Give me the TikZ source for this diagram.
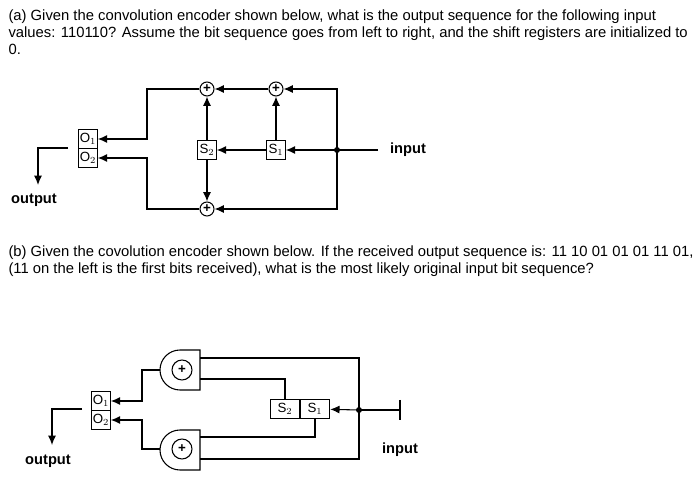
\documentclass[tikz,border=0pt]{standalone}
\usepackage{fontspec}
\setmainfont{Liberation Sans}
\usetikzlibrary{arrows.meta, calc, positioning}
\tikzstyle{reg} = [rectangle, draw=black, fill=white, inner sep=0pt, minimum width=14pt, minimum height=14pt, font=\fontsize{10}{12}\selectfont]
\tikzstyle{adder} = [circle, draw=black, fill=white, inner sep=0pt, minimum size=10.5pt, font=\bfseries\fontsize{10}{12}\selectfont]
\tikzstyle{arrow} = [-{Latex[length=7pt, width=6pt]}]
\tikzstyle{wire} = []
\tikzstyle{lbl} = [font=\bfseries\fontsize{11}{13}\selectfont]
\tikzstyle{txt} = [anchor=base west, inner sep=0pt, font=\fontsize{11.1}{13}\selectfont]
\begin{document}
\begin{tikzpicture}[x=0.75pt, y=-0.75pt, line width=0.8pt]
	\useasboundingbox (0,0) rectangle (700,484);

	% question (a)
	\node[txt] (qa1) at (8,21) {(a) Given the convolution encoder shown below, what is the output sequence for the following input};
	\node[txt] (qa2) at (8,38) {values: 110110? Assume the bit sequence goes from left to right, and the shift registers are initialized to};
	\node[txt] (qa3) at (8,55) {0.};

	\node (addA) [adder] at (207,89) {+};
	\node (addB) [adder] at (276,89) {+};
	\node (addC) [adder] at (207,209) {+};
	\node (s2) [reg] at (207,150) {S$_2$};
	\node (s1) [reg] at (276,150) {S$_1$};
	\node (o1) [reg] at (88,139) {O$_1$};
	\node (o2) [reg] at (88,158) {O$_2$};
	\coordinate (jA) at (337,150);
	\coordinate (inA) at (378,150);
	\node[lbl] (inputA) at (408,150) {input};
	\node[lbl] (outputA) at (34,200) {output};
	\fill (jA) circle (3);

	\draw[wire] (inA) -- (jA);
	\draw[arrow] (jA) -- (s1);
	\draw[arrow] (s1) -- (s2);
	\draw[arrow] (s2) -- (addA);
	\draw[arrow] (s2) -- (addC);
	\draw[arrow] (s1) -- (addB);
	\draw[arrow] (jA) |- (addB);
	\draw[arrow] (addB) -- (addA);
	\draw[arrow] (jA) |- (addC);
	\draw[arrow] (addA) -| (147,139) -- (o1);
	\draw[arrow] (addC) -| (147,158) -- (o2);
	\draw[arrow] (68,148) -| (38,185);

	% question (b)
	\node[txt] (qb1) at (8,257) {(b) Given the covolution encoder shown below. If the received output sequence is: 11 10 01 01 01 11 01,};
	\node[txt] (qb2) at (8,274) {(11 on the left is the first bits received), what is the most likely original input bit sequence?};

	\draw[wire, fill=white] (200,350) -- (180,350) arc[start angle=-90, end angle=-270, radius=20] -- (200,390) -- cycle;
	\draw[wire, fill=white] (200,430) -- (180,430) arc[start angle=-90, end angle=-270, radius=20] -- (200,470) -- cycle;
	\node (addD) [adder, minimum size=15pt] at (182,370) {+};
	\node (addE) [adder, minimum size=15pt] at (182,449) {+};
	\node (s2b) [reg, minimum width=22pt] at (285,409) {S$_2$};
	\node (s1b) [reg, minimum width=22pt] at (315,409) {S$_1$};
	\node (o1b) [reg] at (101,401) {O$_1$};
	\node (o2b) [reg] at (101,420) {O$_2$};
	\coordinate (jB) at (359,410);
	\node[lbl] (inputB) at (400,450) {input};
	\node[lbl] (outputB) at (48,461) {output};
	\fill (jB) circle (3);

	\draw[wire] (400,400) -- (400,420);
	\draw[wire] (400,410) -- (jB);
	\draw[arrow] (jB) -- (s1b);
	\draw[wire] (200,358) -| (jB) |- (200,459);
	\draw[wire] (200,379) -| (s2b.north);
	\draw[wire] (200,437) -| (s1b.south);
	\draw[arrow] (160,370) -| (142,401) -- (o1b);
	\draw[arrow] (160,449) -| (142,420) -- (o2b);
	\draw[arrow] (82,409) -| (52,445);

\end{tikzpicture}
\end{document}
